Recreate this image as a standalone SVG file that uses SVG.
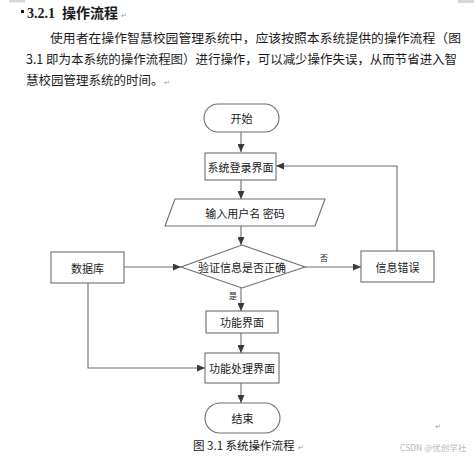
<svg xmlns="http://www.w3.org/2000/svg" width="474" height="459" viewBox="0 0 474 459">
<style>
.bg{fill:#ffffff}
.node{fill:#ffffff;stroke:#6e6e6e;stroke-width:1.1}
.lbl{font-family:"Noto Sans CJK SC","Liberation Sans",sans-serif;font-size:11px;fill:#1a1a1a;text-anchor:middle;dominant-baseline:central}
.small{font-family:"Noto Sans CJK SC","Liberation Sans",sans-serif;font-size:8px;fill:#1a1a1a;text-anchor:middle}
.edge{fill:none;stroke:#6e6e6e;stroke-width:1.1}
.para{font-family:"Noto Sans CJK SC","Liberation Serif",sans-serif;font-size:12.5px;fill:#1a1a1a}
.ret{font-family:"DejaVu Sans",sans-serif;font-size:7px;fill:#999999}
</style>
<defs>
<marker id="arr" markerWidth="8" markerHeight="7" refX="8" refY="3.5" orient="auto" markerUnits="userSpaceOnUse">
<path d="M0,0 L8,3.5 L0,7 z" fill="#3a3a3a"/>
</marker>
</defs>
<rect class="bg" x="0" y="0" width="474" height="459"/>
<rect x="9" y="0" width="16" height="2.5" fill="#d8d8d8"/>
<rect x="458" y="0" width="16" height="3" fill="#d8d8d8"/>

<g id="heading">
<rect x="21" y="10" width="3" height="3" fill="#1a1a1a"/>
<text x="27" y="18" font-family="'Liberation Serif',serif" font-weight="bold" font-size="14" fill="#1a1a1a">3.2.1</text>
<text x="62" y="18" font-family="'Noto Sans CJK SC',sans-serif" font-weight="bold" font-size="14" fill="#1a1a1a">操作流程</text>
<text x="121" y="18" class="ret">↵</text>
</g>

<g id="paragraph">
<text class="para" x="50" y="43" textLength="411" lengthAdjust="spacingAndGlyphs">使用者在操作智慧校园管理系统中，应该按照本系统提供的操作流程（图</text>
<text class="para" x="26" y="64" textLength="431" lengthAdjust="spacingAndGlyphs">3.1 即为本系统的操作流程图）进行操作，可以减少操作失误，从而节省进入智</text>
<text class="para" x="26" y="85">慧校园管理系统的时间。</text>
<text x="164" y="85" class="ret">↵</text>
</g>

<g id="connectors">
<line class="edge" x1="241" y1="132" x2="241" y2="152" marker-end="url(#arr)"/>
<line class="edge" x1="241" y1="180" x2="241" y2="199" marker-end="url(#arr)"/>
<line class="edge" x1="241" y1="226" x2="241" y2="245" marker-end="url(#arr)"/>
<line class="edge" x1="124" y1="267" x2="181" y2="267" marker-end="url(#arr)"/>
<line class="edge" x1="305" y1="267" x2="361" y2="267" marker-end="url(#arr)"/>
<polyline class="edge" points="397,251 397,166 276,166" marker-end="url(#arr)"/>
<line class="edge" x1="241" y1="288" x2="241" y2="311" marker-end="url(#arr)"/>
<line class="edge" x1="241" y1="333" x2="241" y2="353" marker-end="url(#arr)"/>
<polyline class="edge" points="88,283 88,368 205,368" marker-end="url(#arr)"/>
<line class="edge" x1="241" y1="383" x2="241" y2="403" marker-end="url(#arr)"/>
<text class="small" x="324" y="261">否</text>
<text class="small" x="233" y="299">是</text>
</g>

<g id="start">
<rect class="node" x="204" y="104" width="75" height="28" rx="14" ry="14"/>
<text class="lbl" x="241.5" y="118">开始</text>
</g>
<g id="login">
<rect class="node" x="205" y="153" width="71" height="27"/>
<text class="lbl" x="240.5" y="166.5">系统登录界面</text>
</g>
<g id="input">
<polygon class="node" points="175,199 325,199 315,226 165,226"/>
<text class="lbl" x="245" y="212.5">输入用户名 密码</text>
</g>
<g id="verify">
<polygon class="node" points="242,245 305,267 242,288 181,267"/>
<text class="lbl" x="242" y="267">验证信息是否正确</text>
</g>
<g id="database">
<rect class="node" x="51" y="252" width="73" height="31"/>
<text class="lbl" x="87.5" y="267.5">数据库</text>
</g>
<g id="error">
<rect class="node" x="361" y="251" width="73" height="31"/>
<text class="lbl" x="397.5" y="266.5">信息错误</text>
</g>
<g id="function">
<rect class="node" x="206" y="311" width="72" height="22"/>
<text class="lbl" x="242" y="322">功能界面</text>
</g>
<g id="processing">
<rect class="node" x="205" y="353" width="74" height="30"/>
<text class="lbl" x="242" y="368">功能处理界面</text>
</g>
<g id="end">
<rect class="node" x="205" y="403" width="75" height="30" rx="15" ry="15"/>
<text class="lbl" x="242.5" y="418">结束</text>
</g>

<g id="caption">
<text x="193" y="450" font-family="'Noto Sans CJK SC',sans-serif" font-size="11.5" fill="#1a1a1a">图 3.1 系统操作流程</text>
<text x="298" y="450" class="ret">↵</text>
</g>
<text x="435" y="429" class="ret">↵</text>
<text x="400" y="451" font-family="'Noto Sans CJK SC',sans-serif" font-size="8.5" fill="#b8b8b8">CSDN @优创学社</text>
</svg>
